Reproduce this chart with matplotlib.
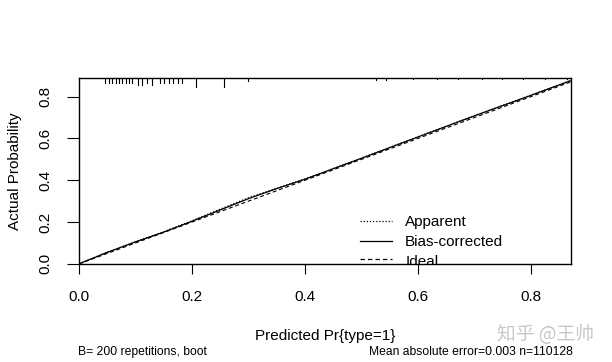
import numpy as np
import matplotlib
matplotlib.use("Agg")
import matplotlib.pyplot as plt
import matplotlib.transforms as mtransforms

plt.rcParams['font.family'] = ['Liberation Sans', 'DejaVu Sans']

# calibration curves
pred = [0.0, 0.02, 0.05, 0.10, 0.15, 0.20, 0.25, 0.30, 0.35, 0.40, 0.50, 0.60, 0.70, 0.80, 0.87]
bias_corrected = [0.0, 0.022, 0.055, 0.105, 0.152, 0.204, 0.258, 0.312, 0.360, 0.405, 0.505, 0.607, 0.708, 0.806, 0.876]
apparent = [0.0, 0.023, 0.056, 0.106, 0.154, 0.206, 0.262, 0.316, 0.362, 0.406, 0.506, 0.608, 0.709, 0.807, 0.877]

# rug of predicted probabilities along the top (x, height in pixels)
rug_x = [0.047, 0.053, 0.059, 0.065, 0.071, 0.077, 0.083, 0.088, 0.094, 0.105, 0.111, 0.120,
         0.129, 0.143, 0.151, 0.159, 0.167, 0.175, 0.182, 0.208, 0.257, 0.299, 0.525, 0.543,
         0.591, 0.634, 0.671, 0.713, 0.749, 0.786, 0.825, 0.864]
rug_h = [5, 5, 5, 5, 5, 5, 5, 5, 5, 7, 7, 5,
         7, 5, 5, 5, 5, 5, 5, 9, 9, 3, 2, 2,
         1.5, 1.5, 1.5, 1.5, 1.5, 1.5, 1.5, 1.5]

xticks = [0.0, 0.2, 0.4, 0.6, 0.8]
yticks = [0.0, 0.2, 0.4, 0.6, 0.8]
legend_labels = ["Apparent", "Bias-corrected", "Ideal"]

fig = plt.figure(figsize=(6.12, 3.62), dpi=100)
ax = fig.add_axes([0.129, 0.271, 0.804, 0.514])

ax.plot(pred, apparent, color='black', lw=0.9, ls=(0, (1, 1.5)))
ax.plot(pred, bias_corrected, color='black', lw=0.9)
ax.plot([0, 0.87], [0, 0.87], color='black', lw=0.8, ls=(0, (3.5, 2.5)))

ax.set_xlim(0, 0.871)
ax.set_ylim(0, 0.89)

# rug ticks hanging from the top frame
trans = mtransforms.blended_transform_factory(ax.transData, ax.transAxes)
ax_h = 186.0
for x, h in zip(rug_x, rug_h):
    ax.plot([x, x], [1.0, 1.0 - h / ax_h], color='black', lw=0.8, transform=trans, clip_on=False)

ax.set_xticks(xticks)
ax.set_yticks(yticks)
ax.set_xticklabels([f"{t:.1f}" for t in xticks])
ax.set_yticklabels([f"{t:.1f}" for t in yticks], rotation=90, va='center')
ax.tick_params(axis='both', direction='out', width=0.8, labelsize=11, color='black')
ax.tick_params(axis='x', length=7, pad=12)
ax.tick_params(axis='y', length=9, pad=10)
for s in ax.spines.values():
    s.set_linewidth(1.0)

ax.set_xlabel("Predicted Pr{type=1}", fontsize=11, labelpad=18)
ax.set_ylabel("Actual Probability", fontsize=11, labelpad=12)

# legend drawn inside the axes so that the last row gets clipped by the frame
line_y = [0.231, 0.124, 0.027]
text_y = [0.224, 0.117, 0.010]
leg_ls = [(0, (1, 1.5)), '-', (0, (3.5, 2.5))]
for lab, ly, ty, ls in zip(legend_labels, line_y, text_y, leg_ls):
    ax.plot([0.571, 0.636], [ly, ly], color='black', lw=0.9, ls=ls, transform=ax.transAxes)
    ax.text(0.663, ty, lab, transform=ax.transAxes, fontsize=11, va='center', ha='left', clip_on=True)

fig.text(0.128, 0.027, "B= 200 repetitions, boot", fontsize=8.7, ha='left', va='center')
fig.text(0.936, 0.027, "Mean absolute error=0.003 n=110128", fontsize=8.7, ha='right', va='center')
fig.text(0.812, 0.075, "知乎 @王帅", fontsize=13.5, color='#c8c8c8', ha='left', va='center',
         family=['Noto Sans CJK SC', 'DejaVu Sans'])

fig.savefig("out.png", dpi=100)
